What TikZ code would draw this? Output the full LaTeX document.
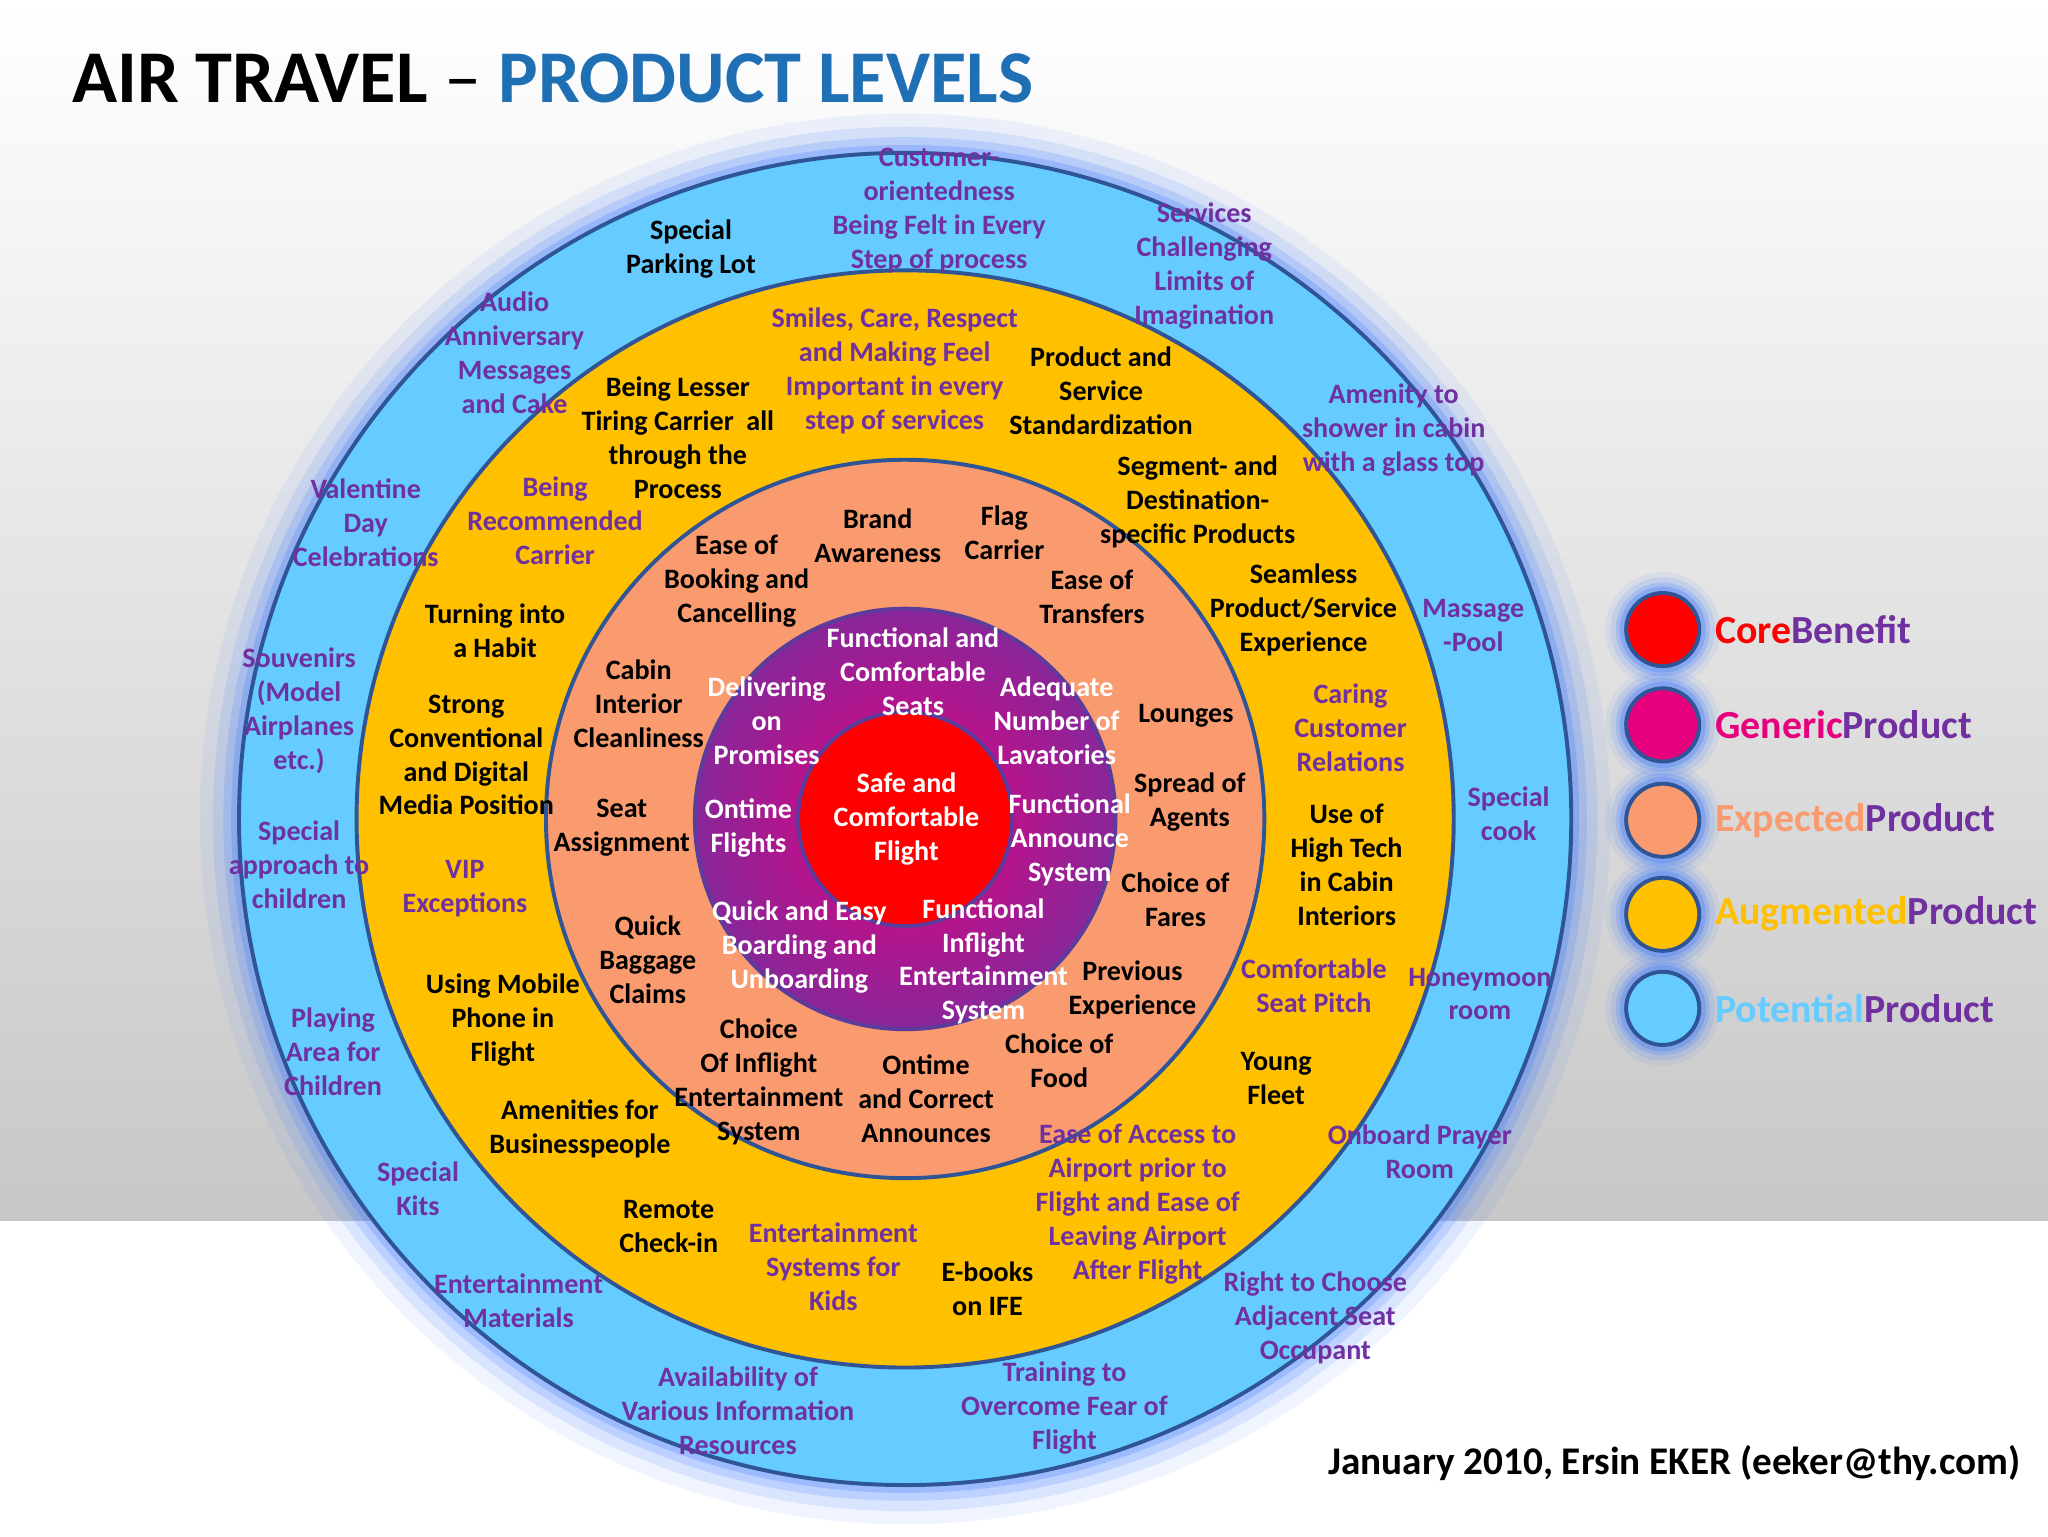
\documentclass[tikz,border=0pt]{standalone}
\usepackage{fontspec}
\setmainfont{Carlito}
\begin{document}
\begin{tikzpicture}[x=1pt,y=-1pt,
  lbl/.style={align=center,font=\fontsize{21.5}{26}\selectfont\bfseries,inner sep=0pt},
  pu/.style={lbl,text=ppl},
  bk/.style={lbl,text=black},
  wh/.style={lbl,text=white},
  ring/.style={draw=ringblue,line width=3pt},
  leg/.style={anchor=west,font=\fontsize{30.5}{32}\selectfont\bfseries,inner sep=0pt}]
\definecolor{ppl}{HTML}{7030A0}
\definecolor{ringblue}{HTML}{2F5597}
\definecolor{potc}{HTML}{66CCFF}
\definecolor{augc}{HTML}{FFC000}
\definecolor{expc}{HTML}{F99B6E}
\definecolor{genc}{HTML}{E6007E}
\definecolor{titleblue}{HTML}{1F6FB4}
\useasboundingbox (0,0) rectangle (1568,1176);
\shade[top color=white,bottom color=black!22] (0,0) rectangle (1568,935);
\fill[white] (0,935) rectangle (1568,1176);
% glow
\foreach \r/\o in {540/0.08,530/0.12,522/0.18,516/0.25}{\fill[potc!60!blue,opacity=\o] (693,627) circle (\r);}
\node[name=outer,circle,minimum size=1020pt,fill=potc,ring] at (693,627) {};
\node[name=aug,circle,minimum size=840pt,fill=augc,ring] at (693,627) {};
\node[name=exp,circle,minimum size=550pt,fill=expc,ring] at (693,627) {};
\node[name=gen,circle,minimum size=322pt,inner color=genc,outer color=ppl!80!genc,ring,draw=ppl!70!ringblue] at (693,627) {};
\node[name=core,circle,minimum size=164pt,fill=red,ring,draw=ppl!70!ringblue] at (693,627) {};
% title
\node[anchor=west,inner sep=0pt,font=\fontsize{57}{60}\selectfont\bfseries] (title) at (55,60) {AIR TRAVEL {\mdseries --} \textcolor{titleblue}{PRODUCT LEVELS}};
% outer
\node[pu] (o1) at (719,161) {Customer-\\orientedness\\Being Felt in Every\\Step of process};
\node[bk] (o2) at (529,191) {Special\\Parking Lot};
\node[pu] (o3) at (922,204) {Services\\Challenging\\Limits of\\Imagination};
\node[pu] (o4) at (394,270) {Audio\\Anniversary\\Messages\\and Cake};
\node[pu] (o5) at (1067,329) {Amenity to\\shower in cabin\\with a glass top};
\node[pu] (o6) at (280,400) {Valentine\\Day\\Celebrations};
\node[pu] (o7) at (1128,479) {Massage\\-Pool};
\node[pu] (o8) at (229,544) {Souvenirs\\(Model\\Airplanes\\etc.)};
\node[pu] (o9) at (1155,623) {Special\\cook};
\node[pu] (o10) at (229,662) {Special\\approach to\\children};
\node[pu] (o11) at (1133,761) {Honeymoon\\room};
\node[pu] (o12) at (255,805) {Playing\\Area for\\Children};
\node[pu] (o13) at (1087,882) {Onboard Prayer\\Room};
\node[pu] (o14) at (320,910) {Special\\Kits};
\node[pu] (o15) at (397,996) {Entertainment\\Materials};
\node[pu] (o16) at (1007,1009) {Right to Choose\\Adjacent Seat\\Occupant};
\node[pu] (o17) at (565,1080) {Availability of\\Various Information\\Resources};
\node[pu] (o18) at (815,1078) {Training to\\Overcome Fear of\\Flight};
% augmented
\node[pu] (a1) at (685,284) {Smiles, Care, Respect\\and Making Feel\\Important in every\\step of services};
\node[bk] (a2) at (843,299) {Product and\\Service\\Standardization};
\node[bk] (a3) at (519,335) {Being Lesser\\Tiring Carrier\ \ all\\through the\\Process};
\node[pu] (a4) at (425,399) {Being\\Recommended\\Carrier};
\node[bk] (a5) at (917,384) {Segment- and\\Destination-\\specific Products};
\node[bk] (a6) at (379,483) {Turning into\\a Habit};
\node[bk] (a7) at (998,467) {Seamless\\Product/Service\\Experience};
\node[pu] (a8) at (1034,557) {Caring\\Customer\\Relations};
\node[bk] (a9) at (357,578) {Strong\\Conventional\\and Digital\\Media Position};
\node[bk] (a10) at (1031,662) {Use of\\High Tech\\in Cabin\\Interiors};
\node[pu] (a11) at (356,680) {VIP\\Exceptions};
\node[pu] (a12) at (1006,755) {Comfortable\\Seat Pitch};
\node[bk] (a13) at (385,781) {Using Mobile\\Phone in\\Flight};
\node[bk] (a14) at (977,826) {Young\\Fleet};
\node[bk] (a15) at (444,864) {Amenities for\\Businesspeople};
\node[pu] (a16) at (871,922) {Ease of Access to\\Airport prior to\\Flight and Ease of\\Leaving Airport\\After Flight};
\node[bk] (a17) at (512,939) {Remote\\Check-in};
\node[pu] (a18) at (638,970) {Entertainment\\Systems for\\Kids};
\node[bk] (a19) at (756,987) {E-books\\on IFE};
% expected
\node[bk] (e1) at (672,410) {Brand\\Awareness};
\node[bk] (e2) at (769,408) {Flag\\Carrier};
\node[bk] (e3) at (564,445) {Ease of\\Booking and\\Cancelling};
\node[bk] (e4) at (836,457) {Ease of\\Transfers};
\node[bk] (e5) at (489,539) {Cabin\\Interior\\Cleanliness};
\node[bk] (e6) at (908,548) {Lounges};
\node[bk] (e7) at (911,614) {Spread of\\Agents};
\node[bk] (e8) at (476,634) {Seat\\Assignment};
\node[bk] (e9) at (900,689) {Choice of\\Fares};
\node[bk] (e10) at (496,735) {Quick\\Baggage\\Claims};
\node[bk] (e11) at (867,758) {Previous\\Experience};
\node[bk] (e12) at (581,828) {Choice\\Of Inflight\\Entertainment\\System};
\node[bk] (e13) at (709,841) {Ontime\\and Correct\\Announces};
\node[bk] (e14) at (811,812) {Choice of\\Food};
% generic
\node[wh] (g1) at (699,514) {Functional and\\Comfortable\\Seats};
\node[wh] (g2) at (587,552) {Delivering\\on\\Promises};
\node[wh] (g3) at (809,552) {Adequate\\Number of\\Lavatories};
\node[wh] (g4) at (573,634) {Ontime\\Flights};
\node[wh] (g5) at (819,643) {Functional\\Announce\\System};
\node[wh] (g6) at (612,725) {Quick and Easy\\Boarding and\\Unboarding};
\node[wh] (g7) at (753,736) {Functional\\Inflight\\Entertainment\\System};
\node[wh] (c1) at (694,627) {Safe and\\Comfortable\\Flight};
% legend
\foreach \y/\c [count=\i] in {482/red,555/genc,628/expc,700/augc,772/potc}{
  \foreach \r/\o in {44/0.08,40/0.12,36/0.2,33/0.3}{\fill[potc!60!blue,opacity=\o] (1273,\y) circle (\r);}
  \node[circle,minimum size=56pt,fill=\c,ring] (lc\i) at (1273,\y) {};}
\node[leg] (l1) at (1313,482) {\textcolor{red}{Core}\textcolor{ppl}{Benefit}};
\node[leg] (l2) at (1313,555) {\textcolor{genc}{Generic}\textcolor{ppl}{Product}};
\node[leg] (l3) at (1313,628) {\textcolor{expc}{Expected}\textcolor{ppl}{Product}};
\node[leg] (l4) at (1313,700) {\textcolor{augc}{Augmented}\textcolor{ppl}{Product}};
\node[leg] (l5) at (1313,772) {\textcolor{potc}{Potential}\textcolor{ppl}{Product}};
\node[anchor=east,inner sep=0pt,font=\fontsize{30}{32}\selectfont\bfseries] (foot) at (1547,1120) {January 2010, Ersin EKER (eeker@thy.com)};
\end{tikzpicture}
\end{document}
